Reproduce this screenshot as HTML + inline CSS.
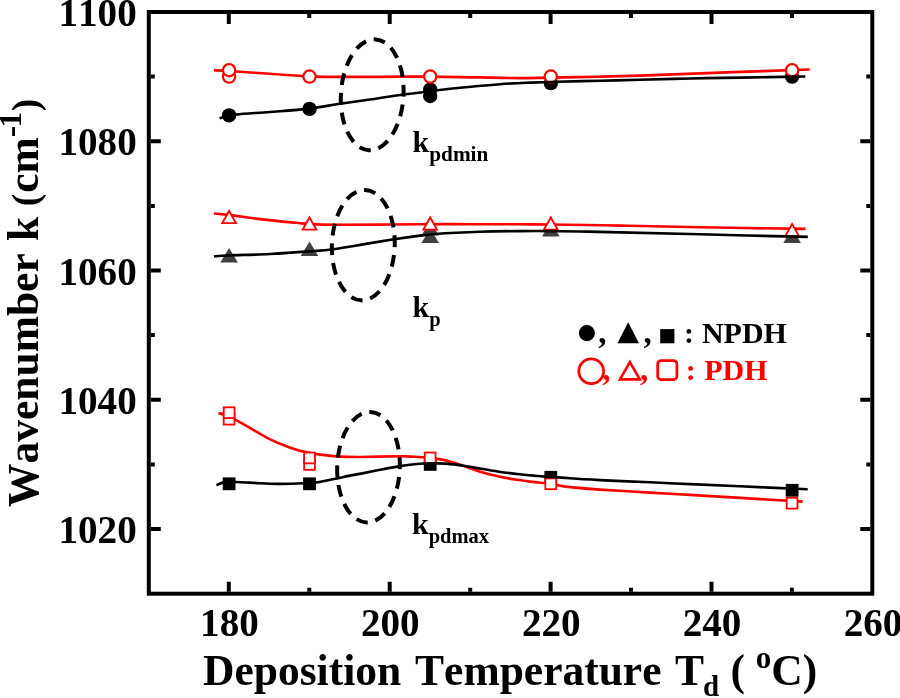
<!DOCTYPE html>
<html lang="en"><head><meta charset="utf-8"><title>Wavenumber k vs Deposition Temperature</title>
<style>html,body{margin:0;padding:0;background:#fff}body{width:900px;height:698px;overflow:hidden}svg{display:block}text{font-family:"Liberation Serif","DejaVu Serif",serif;font-weight:bold;font-kerning:none}</style></head><body>
<svg width="900" height="698" viewBox="0 0 900 698">
<rect width="900" height="698" fill="#fff"/>
<g stroke="#000" stroke-width="4" fill="none">
<path d="M228.8 591.7V581.7M228.8 14.0V24.0"/>
<path d="M309.3 591.7V587.7M309.3 14.0V18.0"/>
<path d="M389.7 591.7V581.7M389.7 14.0V24.0"/>
<path d="M470.2 591.7V587.7M470.2 14.0V18.0"/>
<path d="M550.6 591.7V581.7M550.6 14.0V24.0"/>
<path d="M631.0 591.7V587.7M631.0 14.0V18.0"/>
<path d="M711.5 591.7V581.7M711.5 14.0V24.0"/>
<path d="M791.9 591.7V587.7M791.9 14.0V18.0"/>
<path d="M150.8 529.0H160.8M870.3 529.0H860.3"/>
<path d="M150.8 464.4H154.8M870.3 464.4H866.3"/>
<path d="M150.8 399.8H160.8M870.3 399.8H860.3"/>
<path d="M150.8 335.1H154.8M870.3 335.1H866.3"/>
<path d="M150.8 270.5H160.8M870.3 270.5H860.3"/>
<path d="M150.8 205.9H154.8M870.3 205.9H866.3"/>
<path d="M150.8 141.3H160.8M870.3 141.3H860.3"/>
<path d="M150.8 76.6H154.8M870.3 76.6H866.3"/>
<rect x="148.8" y="12.0" width="723.5" height="581.7"/>
</g>
<g font-size="39.5" fill="#000">
<text transform="translate(136.7 543.1) scale(0.99 1.02)" text-anchor="end">1020</text>
<text transform="translate(136.7 413.9) scale(0.99 1.02)" text-anchor="end">1040</text>
<text transform="translate(136.7 284.6) scale(0.99 1.02)" text-anchor="end">1060</text>
<text transform="translate(136.7 155.4) scale(0.99 1.02)" text-anchor="end">1080</text>
<text transform="translate(136.7 26.1) scale(0.99 1.02)" text-anchor="end">1100</text>
<text transform="translate(229.4 636.3) scale(0.99 1.02)" text-anchor="middle">180</text>
<text transform="translate(390.3 636.3) scale(0.99 1.02)" text-anchor="middle">200</text>
<text transform="translate(551.2 636.3) scale(0.99 1.02)" text-anchor="middle">220</text>
<text transform="translate(712.1 636.3) scale(0.99 1.02)" text-anchor="middle">240</text>
<text transform="translate(873.0 636.3) scale(0.99 1.02)" text-anchor="middle">260</text>
</g>
<text x="203" y="685.1" font-size="43.5" fill="#000">Deposition<tspan dx="3"> Temperature</tspan><tspan dx="2.5"> T</tspan><tspan font-size="29" dx="-1" dy="10.5">d</tspan><tspan dx="0.5" dy="-10.5"> ( </tspan><tspan font-size="31" dx="0" dy="-17.6">o</tspan><tspan dx="0" dy="17.6">C)</tspan></text>
<text transform="translate(37.8 507) rotate(-90)" font-size="43.5" fill="#000">Wavenumber<tspan dx="1.5"> k</tspan><tspan dx="-1.5"> </tspan><tspan font-size="37.5" dx="1">(</tspan><tspan dx="1">cm</tspan><tspan font-size="34.5" dy="-16.1" dx="0.1">-</tspan><tspan font-size="31.5" dy="-1.0" dx="-1.9">1</tspan><tspan font-size="37.5" dy="17.1" dx="0.6">)</tspan></text>
<circle cx="229.1" cy="115.4" r="7.2" fill="#000"/>
<circle cx="309.5" cy="108.9" r="7.2" fill="#000"/>
<circle cx="430.2" cy="96.0" r="7.2" fill="#000"/>
<circle cx="430.2" cy="89.6" r="7.2" fill="#000"/>
<circle cx="550.8" cy="83.1" r="7.2" fill="#000"/>
<circle cx="792.1" cy="76.6" r="7.2" fill="#000"/>
<path d="M229.1 247.9L237.9 262.5H220.3Z" fill="#404040"/>
<path d="M309.5 241.4L318.3 256.0H300.7Z" fill="#404040"/>
<path d="M430.2 221.0L439.0 235.6H421.4Z" fill="#404040"/>
<path d="M430.2 228.5L439.0 243.1H421.4Z" fill="#404040"/>
<path d="M550.8 222.0L559.6 236.6H542.0Z" fill="#404040"/>
<path d="M792.1 228.5L800.9 243.1H783.3Z" fill="#404040"/>
<rect x="222.7" y="477.4" width="12.8" height="12.8" fill="#000"/>
<rect x="303.1" y="477.4" width="12.8" height="12.8" fill="#000"/>
<rect x="423.8" y="458.0" width="12.8" height="12.8" fill="#000"/>
<rect x="544.4" y="470.9" width="12.8" height="12.8" fill="#000"/>
<rect x="785.7" y="483.9" width="12.8" height="12.8" fill="#000"/>
<path d="M214.0 70.3C216.5 70.4 219.7 70.4 229.0 71.0C238.3 71.6 256.7 72.9 270.0 73.8C283.3 74.7 297.3 75.9 309.0 76.4C320.7 76.9 328.2 76.8 340.0 76.9C351.8 77.0 365.0 76.8 380.0 76.8C395.0 76.8 413.3 76.5 430.0 76.6C446.7 76.7 465.0 77.2 480.0 77.4C495.0 77.7 508.2 78.1 520.0 78.1C531.8 78.1 537.7 77.8 551.0 77.6C564.3 77.4 585.2 77.0 600.0 76.7C614.8 76.4 620.0 76.3 640.0 75.6C660.0 74.9 691.7 73.6 720.0 72.6C748.3 71.6 794.7 70.0 809.6 69.5" fill="none" stroke="#ff0000" stroke-width="2.65"/>
<path d="M214.0 213.5C216.4 213.7 224.8 214.5 228.5 214.9C232.2 215.3 232.1 215.4 236.0 215.9C239.9 216.4 246.5 217.3 251.7 218.0C256.9 218.7 262.0 219.3 267.2 219.9C272.4 220.5 277.6 221.1 282.8 221.6C288.0 222.1 292.6 222.5 298.3 223.0C304.0 223.5 309.2 224.1 317.0 224.4C324.8 224.7 334.5 224.7 345.0 224.7C355.5 224.7 367.5 224.7 380.0 224.6C392.5 224.5 403.3 224.3 420.0 224.2C436.7 224.1 463.3 224.2 480.0 224.2C496.7 224.2 508.3 224.2 520.0 224.3C531.7 224.4 533.3 224.3 550.0 224.5C566.7 224.7 595.0 225.1 620.0 225.6C645.0 226.1 669.1 226.8 700.0 227.3C730.9 227.9 788.0 228.6 805.6 228.9" fill="none" stroke="#ff0000" stroke-width="2.65"/>
<path d="M218.5 413.1C219.6 413.4 222.2 413.9 225.0 415.0C227.8 416.1 230.8 417.5 235.0 419.7C239.2 421.9 244.3 424.8 250.2 428.1C256.1 431.4 263.5 436.1 270.2 439.4C276.9 442.7 284.8 445.8 290.3 447.8C295.8 449.8 298.4 450.5 303.4 451.6C308.4 452.7 314.2 453.8 320.4 454.6C326.6 455.4 333.9 456.2 340.5 456.6C347.1 457.0 350.1 457.1 360.0 457.0C369.9 456.9 391.7 456.4 400.0 456.3C408.3 456.2 406.0 456.4 410.0 456.6C414.0 456.8 419.8 456.9 424.2 457.3C428.6 457.7 433.1 458.3 436.7 458.8C440.3 459.3 441.2 459.2 445.6 460.4C450.0 461.6 457.4 463.9 463.3 465.8C469.2 467.7 475.2 470.2 481.1 472.0C487.0 473.8 493.0 475.2 498.9 476.5C504.8 477.8 510.8 478.9 516.7 479.8C522.6 480.7 529.7 481.5 534.4 482.1C539.1 482.7 541.2 482.8 545.1 483.3C549.0 483.8 553.5 484.7 557.6 485.3C561.8 485.9 562.9 486.4 570.0 487.1C577.1 487.8 586.7 488.7 600.0 489.6C613.3 490.5 635.0 491.7 650.0 492.6C665.0 493.5 675.0 494.0 690.0 494.9C705.0 495.8 721.2 496.8 740.0 497.9C758.8 499.0 792.2 501.0 802.7 501.6" fill="none" stroke="#ff0000" stroke-width="2.65"/>
<circle cx="229.1" cy="76.6" r="6.15" fill="#fff" stroke="#ff0000" stroke-width="2.2"/>
<circle cx="229.1" cy="70.2" r="6.15" fill="#fff" stroke="#ff0000" stroke-width="2.2"/>
<circle cx="309.5" cy="76.6" r="6.15" fill="#fff" stroke="#ff0000" stroke-width="2.2"/>
<circle cx="430.2" cy="76.6" r="6.15" fill="#fff" stroke="#ff0000" stroke-width="2.2"/>
<circle cx="550.8" cy="76.6" r="6.15" fill="#fff" stroke="#ff0000" stroke-width="2.2"/>
<circle cx="792.1" cy="70.2" r="6.15" fill="#fff" stroke="#ff0000" stroke-width="2.2"/>
<path d="M229.1 211.0L235.9 223.1H222.3Z" fill="#fff" stroke="#ff0000" stroke-width="1.9" stroke-linejoin="miter"/>
<path d="M309.5 217.5L316.3 229.6H302.7Z" fill="#fff" stroke="#ff0000" stroke-width="1.9" stroke-linejoin="miter"/>
<path d="M430.2 217.5L437.0 229.6H423.4Z" fill="#fff" stroke="#ff0000" stroke-width="1.9" stroke-linejoin="miter"/>
<path d="M550.8 217.5L557.6 229.6H544.0Z" fill="#fff" stroke="#ff0000" stroke-width="1.9" stroke-linejoin="miter"/>
<path d="M792.1 224.0L798.9 236.1H785.3Z" fill="#fff" stroke="#ff0000" stroke-width="1.9" stroke-linejoin="miter"/>
<rect x="223.72" y="413.77" width="10.8" height="10.8" fill="#fff" stroke="#ff0000" stroke-width="1.8"/>
<rect x="223.72" y="407.31" width="10.8" height="10.8" fill="#fff" stroke="#ff0000" stroke-width="1.8"/>
<rect x="304.14" y="459.01" width="10.8" height="10.8" fill="#fff" stroke="#ff0000" stroke-width="1.8"/>
<rect x="304.14" y="452.55" width="10.8" height="10.8" fill="#fff" stroke="#ff0000" stroke-width="1.8"/>
<rect x="424.77" y="452.55" width="10.8" height="10.8" fill="#fff" stroke="#ff0000" stroke-width="1.8"/>
<rect x="545.40" y="478.40" width="10.8" height="10.8" fill="#fff" stroke="#ff0000" stroke-width="1.8"/>
<rect x="786.66" y="497.79" width="10.8" height="10.8" fill="#fff" stroke="#ff0000" stroke-width="1.8"/>
<path d="M219.5 118.2C222.2 117.6 227.6 115.6 236.0 114.6C244.4 113.6 257.8 113.0 270.0 112.0C282.2 111.0 297.3 110.0 309.0 108.6C320.7 107.2 329.8 105.3 340.0 103.8C350.2 102.3 360.0 101.0 370.0 99.5C380.0 98.0 390.0 96.4 400.0 95.0C410.0 93.6 420.0 92.4 430.0 91.2C440.0 90.0 448.3 88.9 460.0 87.7C471.7 86.5 488.3 85.1 500.0 84.2C511.7 83.3 520.5 83.0 530.0 82.6C539.5 82.2 545.0 82.0 556.7 81.7C568.4 81.4 586.1 81.0 600.0 80.7C613.9 80.4 625.0 80.2 640.0 79.8C655.0 79.4 673.3 78.9 690.0 78.5C706.7 78.1 720.8 77.9 740.0 77.6C759.2 77.3 794.4 76.7 805.3 76.5" fill="none" stroke="#000" stroke-width="2.65"/>
<path d="M214.0 256.4C216.5 256.2 219.7 255.8 229.0 255.4C238.3 255.0 256.7 254.7 270.0 254.0C283.3 253.3 298.5 252.2 309.0 251.4C319.5 250.6 324.0 250.4 333.0 249.2C342.0 248.0 352.8 246.1 363.0 244.4C373.2 242.7 384.5 240.7 394.0 239.2C403.5 237.7 411.5 236.6 420.0 235.6C428.5 234.6 435.0 234.0 445.0 233.3C455.0 232.7 467.5 232.1 480.0 231.7C492.5 231.3 508.3 231.2 520.0 231.1C531.7 231.0 540.0 231.0 550.0 231.1C560.0 231.2 568.3 231.3 580.0 231.5C591.7 231.7 600.0 231.9 620.0 232.4C640.0 232.9 668.7 233.6 700.0 234.3C731.3 235.1 789.8 236.5 807.8 236.9" fill="none" stroke="#000" stroke-width="2.65"/>
<path d="M216.5 485.3C217.6 484.9 219.8 483.2 223.0 482.6C226.2 482.1 229.8 481.9 236.0 482.0C242.2 482.1 252.7 482.9 260.0 483.2C267.3 483.5 272.8 483.9 280.0 483.9C287.2 483.9 297.3 483.6 303.4 483.3C309.5 483.1 313.0 482.8 316.7 482.4C320.4 482.0 322.2 481.4 325.6 480.7C329.0 480.0 333.2 479.2 337.1 478.4C341.0 477.6 344.7 476.7 348.7 475.9C352.7 475.1 356.1 474.6 361.1 473.6C366.1 472.6 372.7 471.2 378.9 470.0C385.1 468.8 392.5 467.4 398.4 466.4C404.3 465.4 409.9 464.7 414.4 464.2C418.8 463.7 421.2 463.6 425.1 463.5C429.0 463.4 434.2 463.3 437.6 463.3C441.0 463.3 442.8 463.4 445.6 463.6C448.4 463.8 451.4 464.1 454.4 464.5C457.3 464.9 458.9 465.1 463.3 465.8C467.8 466.5 475.2 467.8 481.1 468.8C487.0 469.8 493.0 470.8 498.9 471.7C504.8 472.6 510.8 473.3 516.7 474.0C522.6 474.7 529.7 475.3 534.4 475.7C539.1 476.1 541.2 476.3 545.1 476.6C549.0 476.9 553.5 477.1 557.6 477.4C561.8 477.7 562.9 477.9 570.0 478.3C577.1 478.8 586.7 479.4 600.0 480.1C613.3 480.8 635.0 481.6 650.0 482.3C665.0 483.0 675.0 483.4 690.0 484.1C705.0 484.7 720.4 485.4 740.0 486.3C759.6 487.2 796.4 488.8 807.7 489.3" fill="none" stroke="#000" stroke-width="2.65"/>
<g fill="none" stroke="#000" stroke-width="4" stroke-dasharray="0.6 0.4">
<ellipse cx="372.2" cy="94.8" rx="31.3" ry="55.5" pathLength="14" stroke-dashoffset="0.6" transform="rotate(3.5 372.2 94.8)"/>
<ellipse cx="363.3" cy="245.2" rx="31.4" ry="55.2" pathLength="14" stroke-dashoffset="0.56" transform="rotate(2 363.3 245.2)"/>
<ellipse cx="368.5" cy="467.2" rx="31.3" ry="55.3" pathLength="14" stroke-dashoffset="0.56" transform="rotate(2 368.5 467.2)"/>
</g>
<text x="412.5" y="152.1" font-size="30" fill="#000">k<tspan font-size="21.3" dy="9.1">pdmin</tspan></text>
<text x="412.6" y="317.1" font-size="30" fill="#000">k<tspan font-size="20.6" dy="8.4">p</tspan></text>
<text x="412" y="534.1" font-size="30" fill="#000">k<tspan font-size="20.5" dy="8.4">pdmax</tspan></text>
<circle cx="586.9" cy="333.1" r="8.05" fill="#000"/>
<path d="M628.2 322.2L638.95 343.3H617.45Z" fill="#000"/>
<rect x="660.2" y="329.1" width="14.2" height="14.2" fill="#000"/>
<text font-size="30" fill="#000" y="343.2"><tspan x="598.3" font-size="33">,</tspan><tspan x="643.5" font-size="33">,</tspan><tspan x="684.1">:</tspan><tspan x="701.9">NPDH</tspan></text>
<circle cx="591.2" cy="371.2" r="12.4" fill="none" stroke="#ff0000" stroke-width="2.7"/>
<path d="M629.9 362.1L639.85 379.4H619.95Z" fill="none" stroke="#ff0000" stroke-width="2.6"/>
<rect x="657.7" y="360.6" width="19.2" height="19" rx="3.4" fill="none" stroke="#ff0000" stroke-width="2.75"/>
<text font-size="30" fill="#ff0000" y="380"><tspan x="602.3" font-size="33">,</tspan><tspan x="640" font-size="33">,</tspan><tspan x="685.8">:</tspan><tspan x="704.3">PDH</tspan></text>
</svg></body></html>
